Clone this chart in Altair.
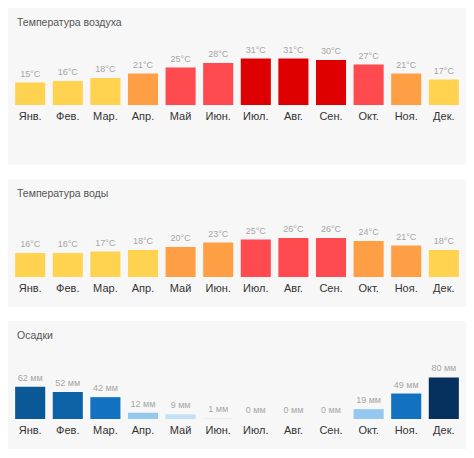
import altair as alt
import pandas as pd

months = ["Янв.", "Фев.", "Мар.", "Апр.", "Май", "Июн.", "Июл.", "Авг.", "Сен.", "Окт.", "Ноя.", "Дек."]
air_temp = [15, 16, 18, 21, 25, 28, 31, 31, 30, 27, 21, 17]
water_temp = [16, 16, 17, 18, 20, 23, 25, 26, 26, 24, 21, 18]
precip = [62, 52, 42, 12, 9, 1, 0, 0, 0, 19, 49, 80]

FONT = "Liberation Sans"
W = 458

temp_color = alt.Scale(type="threshold", domain=[20, 25, 29],
                       range=["#ffd34f", "#ff9f45", "#ff4a4f", "#de0000"])
rain_color = alt.Scale(type="threshold", domain=[5, 10, 30, 50, 60, 70],
                       range=["#dde9f4", "#c2e0f6", "#94c8ee", "#1271c0", "#0d62a6", "#0b5897", "#06315f"])


def panel(title, values, unit, color_scale, height, ydomain):
    df = pd.DataFrame({"month": months, "value": values,
                       "label": [f"{v}{unit}" for v in values]})
    x = alt.X("month:N", sort=months, axis=None,
              scale=alt.Scale(paddingInner=0.2, paddingOuter=0.19))
    yscale = alt.Scale(domain=ydomain, nice=False, zero=False)
    base = alt.Chart(df)
    bars = base.mark_bar(cornerRadius=0).encode(
        x=x,
        y=alt.Y("value:Q", axis=None, scale=yscale),
        y2=alt.datum(0),
        color=alt.Color("value:Q", scale=color_scale, legend=None),
    )
    vals = base.mark_text(font=FONT, fontSize=9, color="#a6a6a6",
                          baseline="middle", dy=-9).encode(
        x=x, y=alt.Y("value:Q", scale=yscale), text="label:N")
    mlabels = base.mark_text(font=FONT, fontSize=11, color="#333333",
                             baseline="middle", dy=12).encode(
        x=x, y=alt.datum(0), text="month:N")
    ttl = alt.Chart(pd.DataFrame({"t": [title]})).mark_text(
        font=FONT, fontSize=10.5, color="#555555", align="left", baseline="middle"
    ).encode(x=alt.value(9), y=alt.value(14.5), text="t:N")
    return alt.layer(bars, vals, mlabels, ttl).properties(width=W, height=height)


p1 = panel("Температура воздуха", air_temp, "°C", temp_color, 157, [-40, 97 / 1.5])
p2 = panel("Температура воды", water_temp, "°C", temp_color, 128, [-30 / 1.5, 98 / 1.5])
p3 = panel("Осадки", precip, " мм", rain_color, 128, [-30 / 0.52, 98 / 0.52])

chart = alt.vconcat(p1, p2, p3, spacing=14).resolve_scale(
    color="independent", x="independent", y="independent"
).properties(
    padding=0, background="white"
).configure_view(fill="#f7f7f7", stroke=None).configure_concat(spacing=14)

chart.save("out.html", embed_options={"renderer": "svg", "actions": False})
